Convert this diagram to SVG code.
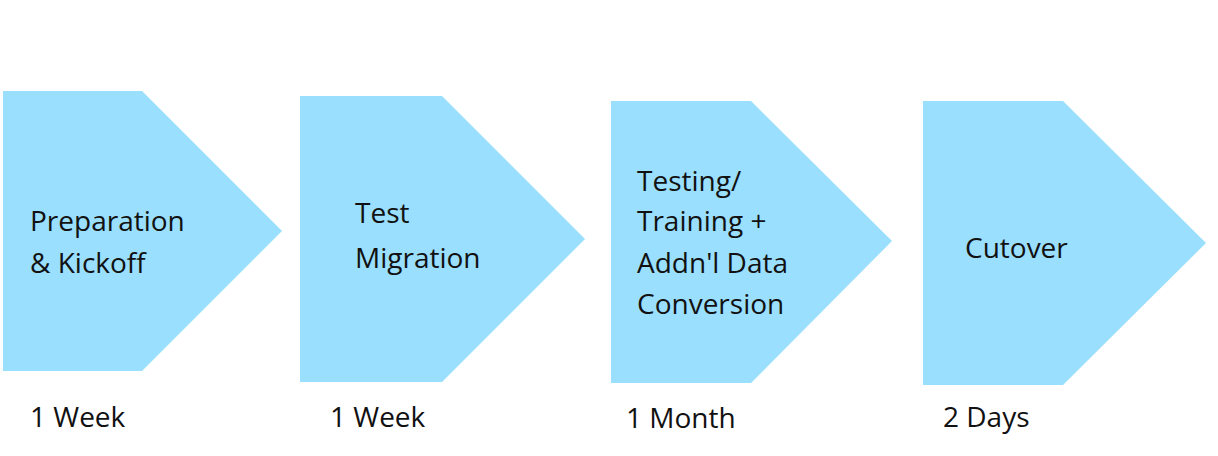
<svg xmlns="http://www.w3.org/2000/svg" width="1218" height="456" viewBox="0 0 1218 456">
<style>
.s{fill:#9adffd}
.t{font-family:"Open Sans","Liberation Sans",sans-serif;font-size:28px;fill:#111}
</style>
<rect width="1218" height="456" fill="#fff"/>
<g id="connectors"/>
<g id="n1"><polygon class="s" points="3,91 142,91 282,231 142,371 3,371"/>
<text class="t" x="30" y="231">Preparation</text><text class="t" x="30" y="273">&amp; Kickoff</text>
<text class="t" x="30" y="427">1 Week</text></g>
<g id="n2"><polygon class="s" points="300,96 442,96 585,239 442,382 300,382"/>
<text class="t" x="355" y="223">Test</text><text class="t" x="355" y="268">Migration</text>
<text class="t" x="330" y="427">1 Week</text></g>
<g id="n3"><polygon class="s" points="611,101 751,101 892,241 751,383 611,383"/>
<text class="t" x="637" y="191">Testing/</text><text class="t" x="637" y="231">Training +</text>
<text class="t" x="637" y="273">Addn'l Data</text><text class="t" x="637" y="314">Conversion</text>
<text class="t" x="626" y="428">1 Month</text></g>
<g id="n4"><polygon class="s" points="923,101 1063,101 1206,243 1063,385 923,385"/>
<text class="t" x="965" y="258">Cutover</text>
<text class="t" x="943" y="427">2 Days</text></g>
</svg>
